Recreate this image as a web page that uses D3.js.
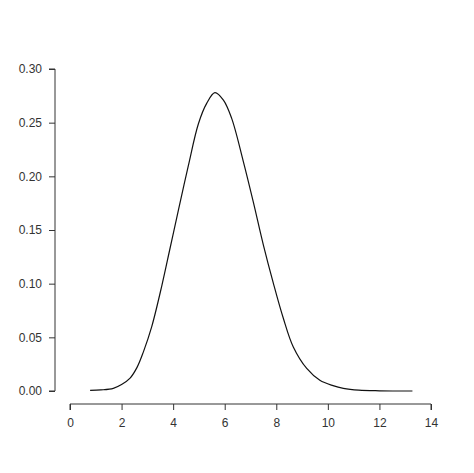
<!DOCTYPE html>
<html>
<head>
<meta charset="utf-8">
<script src="https://cdn.jsdelivr.net/npm/d3@7"></script>
<style>
  body { margin: 0; background: #fff; }
  text { font-family: "Liberation Sans", Arial, sans-serif; font-size: 12px; fill: #333; }
</style>
</head>
<body>
<script>
// density curve
const densX = [0.78, 1.2, 1.68, 2.0, 2.33, 2.6, 2.84, 3.17, 3.56, 3.88, 4.2, 4.59, 4.98, 5.3, 5.62, 5.95, 6.27, 6.72, 7.11, 7.5, 7.88, 8.27, 8.66, 9.18, 9.69, 10.2, 10.6, 11.2, 12.0, 13.28]
const densY = [0.0005, 0.001, 0.0025, 0.006, 0.012, 0.022, 0.036, 0.060, 0.098, 0.133, 0.168, 0.21, 0.249, 0.268, 0.278, 0.271, 0.254, 0.214, 0.176, 0.136, 0.101, 0.068, 0.041, 0.021, 0.010, 0.005, 0.0025, 0.0008, 0.0002, 0.0]

const xTicks = [0, 2, 4, 6, 8, 10, 12, 14]
const yTicks = [0.00, 0.05, 0.10, 0.15, 0.20, 0.25, 0.30]

const W = 474, H = 473
const svg = d3.select("body").append("svg").attr("width", W).attr("height", H)

const x = d3.scaleLinear().domain([0, 14]).range([70, 431])
const y = d3.scaleLinear().domain([0, 0.30]).range([391, 69])

// x axis, detached below the plot like R's base graphics
const xAxis = svg.append("g").attr("transform", "translate(0,404)")
  .call(d3.axisBottom(x).tickValues(xTicks).tickFormat(d3.format("d")).tickSize(6).tickPadding(8))
xAxis.select(".domain").attr("stroke", "#333").attr("d", `M${x(0)},6V0H${x(14)}V6`)
xAxis.selectAll("line").attr("stroke", "#333")
xAxis.selectAll("text").attr("fill", "#333").style("font-family", "Liberation Sans, Arial, sans-serif").style("font-size", "12px")

const yAxis = svg.append("g").attr("transform", "translate(55,0)")
  .call(d3.axisLeft(y).tickValues(yTicks).tickFormat(d3.format(".2f")).tickSize(6).tickPadding(7))
yAxis.select(".domain").attr("stroke", "#333").attr("d", `M-6,${y(0.30)}H0V${y(0)}H-6`)
yAxis.selectAll("line").attr("stroke", "#333")
yAxis.selectAll("text").attr("fill", "#333").style("font-family", "Liberation Sans, Arial, sans-serif").style("font-size", "12px")

const pts = densX.map((d, i) => [d, densY[i]])
svg.append("path")
  .datum(pts)
  .attr("fill", "none")
  .attr("stroke", "#111")
  .attr("stroke-width", 1.2)
  .attr("d", d3.line().x(d => x(d[0])).y(d => y(d[1])).curve(d3.curveCatmullRom.alpha(0.5)))
</script>
</body>
</html>
